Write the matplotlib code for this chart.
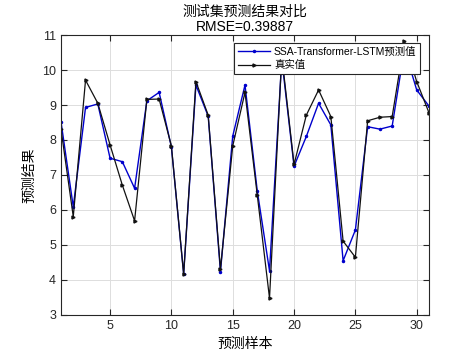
import numpy as np
import matplotlib.pyplot as plt

plt.rcParams['font.family'] = ['Liberation Sans', 'Noto Sans CJK SC', 'DejaVu Sans']

# test sample index
sample = np.arange(1, 32)

# predicted values (SSA-Transformer-LSTM)
pred = [8.52, 6.09, 8.93, 9.03, 7.48, 7.38, 6.62, 9.12, 9.36, 7.80,
        4.17, 9.57, 8.68, 4.24, 8.11, 9.57, 6.55, 4.26, 10.3, 7.25,
        8.10, 9.05, 8.43, 4.55, 5.43, 8.38, 8.31, 8.40, 10.6, 9.43, 8.97]

# true values
true = [8.31, 5.81, 9.71, 9.05, 7.86, 6.71, 5.69, 9.16, 9.17, 7.83,
        4.17, 9.67, 8.71, 4.31, 7.83, 9.36, 6.43, 3.48, 10.4, 7.30,
        8.71, 9.43, 8.67, 5.11, 4.65, 8.55, 8.65, 8.67, 10.83, 9.67, 8.78]

rmse = 0.39887

fig = plt.figure(figsize=(4.74, 3.55), dpi=100)
ax = fig.add_axes([0.1287, 0.1127, 0.7763, 0.7887])

ax.plot(sample, pred, '-', color='#0000cc', lw=1.0, marker='.', ms=3,
        label='SSA-Transformer-LSTM预测值')
ax.plot(sample, true, '-', color='#111111', lw=0.9, marker='>', ms=2.2,
        label='真实值')

ax.set_xlim(1, 31)
ax.set_ylim(3, 11)
ax.set_xticks([5, 10, 15, 20, 25, 30])
ax.set_yticks(range(3, 12))
ax.grid(True, color='#dddddd', lw=0.7)
ax.set_axisbelow(True)
ax.tick_params(direction='in', top=True, right=True, length=4,
               labelsize=9, color='#262626', labelcolor='#262626')
for s in ax.spines.values():
    s.set_color('#262626')
    s.set_linewidth(0.8)

ax.set_xlabel('预测样本', fontsize=10, family=['Noto Sans CJK SC'])
ax.set_ylabel('预测结果', fontsize=10, family=['Noto Sans CJK SC'])
ax.set_title('测试集预测结果对比\nRMSE=%.5f' % rmse, fontsize=10,
             linespacing=1.1, pad=3)

leg = ax.legend(loc='upper left', bbox_to_anchor=(0.47, 0.97),
                fontsize=7.5, frameon=True, fancybox=False,
                borderpad=0.35, labelspacing=0.3, handlelength=3.1,
                handletextpad=0.4, borderaxespad=0)
leg.set_zorder(10)
leg.get_frame().set_edgecolor('#262626')
leg.get_frame().set_linewidth(0.8)
leg.get_frame().set_alpha(1)

fig.savefig('out.png', dpi=100)
